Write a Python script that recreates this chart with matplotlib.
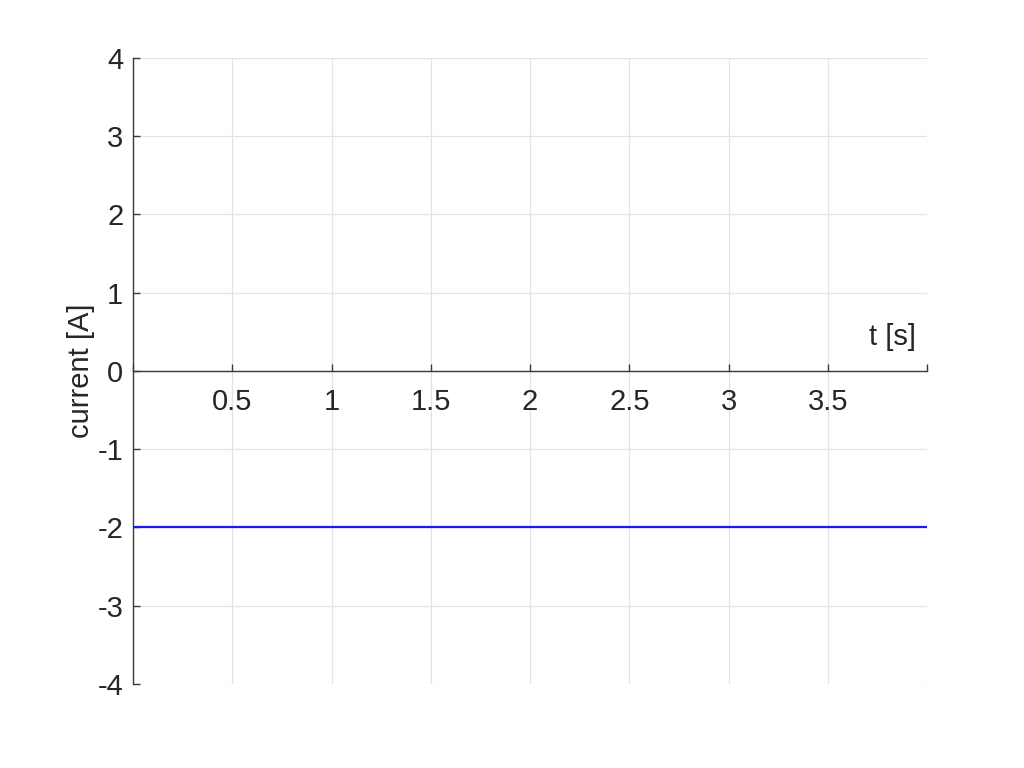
import numpy as np
import matplotlib
matplotlib.use('Agg')
import matplotlib.pyplot as plt

# data
t = [0.0, 4.0]
current = [-2.0, -2.0]

xticks = [0, 0.5, 1, 1.5, 2, 2.5, 3, 3.5, 4]
xticklabels = ['', '0.5', '1', '1.5', '2', '2.5', '3', '3.5', '']
yticks = [-4, -3, -2, -1, 0, 1, 2, 3, 4]
yticklabels = ['-4', '-3', '-2', '-1', '0', '1', '2', '3', '4']

plt.rcParams['font.family'] = ['Liberation Sans', 'DejaVu Sans']
axcol = '#262626'
spinecol = '#3a3a3a'
gridcol = '#e3e3e3'

fig = plt.figure(figsize=(10.24, 7.68), dpi=100)
ax = fig.add_axes([0.1299, 0.1094, 0.7754, 0.8151])

ax.plot(t, current, color=(0.1, 0.1, 0.95), linewidth=1.6, zorder=3)

ax.set_xlim(0, 4)
ax.set_ylim(-4, 4)

# MATLAB-like origin axis
ax.spines['bottom'].set_position(('data', 0))
ax.spines['bottom'].set_color(spinecol)
ax.spines['left'].set_color(spinecol)
ax.spines['top'].set_visible(False)
ax.spines['right'].set_visible(False)
ax.spines['bottom'].set_linewidth(1.0)
ax.spines['left'].set_linewidth(1.0)

ax.set_xticks(xticks)
ax.set_xticklabels(xticklabels)
ax.set_yticks(yticks)
ax.set_yticklabels(yticklabels)
ax.tick_params(axis='both', direction='in', length=5, width=1.0, color=spinecol,
               labelcolor=axcol, labelsize=21)
ax.tick_params(axis='x', pad=12)
ax.tick_params(axis='y', pad=7)

# grid incl. box edges
for x in np.arange(0.5, 4.01, 0.5):
    ax.axvline(x, color=gridcol, linewidth=0.9, zorder=0)
for y in yticks:
    ax.axhline(y, color=gridcol, linewidth=0.9, zorder=0)

ax.set_ylabel('current [A]', fontsize=21, color=axcol, labelpad=2)
ax.text(3.945, 0.26, 't [s]', fontsize=21, color=axcol, ha='right', va='bottom')

fig.savefig('out.png', dpi=100)
